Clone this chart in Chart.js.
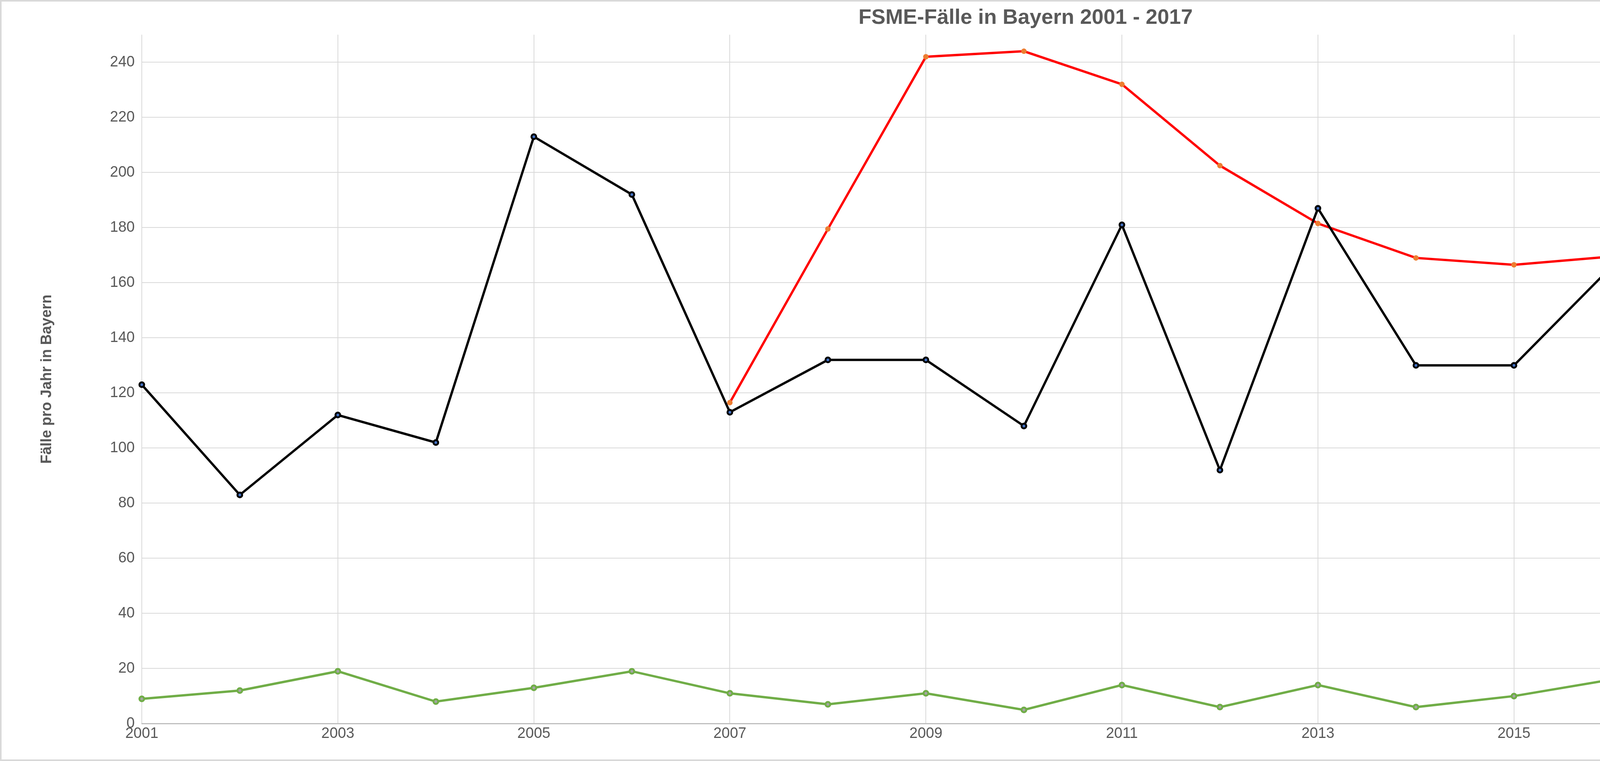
<!DOCTYPE html>
<html>
<head>
<meta charset="utf-8">
<script src="https://cdn.jsdelivr.net/npm/chart.js@4"></script>
<style>
  html, body { margin: 0; padding: 0; background: #fff; overflow: hidden; }
  #wrap { position: relative; width: 5191px; height: 1947px; box-sizing: border-box; border: 4px solid #d9d9d9; }
  #c { display: block; width: 5183px !important; height: 1939px !important; }
  #source { position: absolute; left: 4962px; top: 1812px; font-family: 'Liberation Sans', Arial, sans-serif; font-size: 30px; color: #595959; line-height: 36px; }
</style>
</head>
<body>
<div id="wrap">
  <canvas id="c" width="5183" height="1939"></canvas>
  <div id="source"><b>Quelle:</b><br>Survstat@RKI<br>gbe-bund.de</div>
</div>
<script>
const years = ['2001','2002','2003','2004','2005','2006','2007','2008','2009','2010','2011','2012','2013','2014','2015','2016','2017'];
const alleAltersgruppen = [123, 83, 112, 102, 213, 192, 113, 132, 132, 108, 181, 92, 187, 130, 130, 166, 241];
const bis14Jahre = [9, 12, 19, 8, 13, 19, 11, 7, 11, 5, 14, 6, 14, 6, 10, 16, 15];
const impfquote = [null, null, null, null, null, null, 23.3, 35.9, 48.4, 48.8, 46.4, 40.5, 36.3, 33.8, 33.3, 33.9, null];

const FONT = "'Liberation Sans', Arial, sans-serif";
const GREY = '#595959';

new Chart(document.getElementById('c'), {
  type: 'line',
  data: {
    labels: years,
    datasets: [
      {
        label: 'Alle Altersgruppen',
        data: alleAltersgruppen,
        borderColor: '#000000',
        backgroundColor: '#4472c4',
        pointBorderColor: '#000000',
        pointBackgroundColor: '#4472c4',
        borderWidth: 6,
        pointRadius: 6,
        pointBorderWidth: 5,
        yAxisID: 'y',
      },
      {
        label: '≤ 14 Jahre',
        data: bis14Jahre,
        borderColor: '#70ad47',
        backgroundColor: '#a5a5a5',
        pointBorderColor: '#70ad47',
        pointBackgroundColor: '#a5a5a5',
        borderWidth: 6,
        pointRadius: 6,
        pointBorderWidth: 5,
        yAxisID: 'y',
      },
      {
        label: 'Impfquote Einschulung',
        data: impfquote,
        borderColor: '#ff0000',
        backgroundColor: '#ed7d31',
        pointBorderColor: '#ed7d31',
        pointBackgroundColor: '#ed7d31',
        borderWidth: 6,
        pointRadius: 7,
        pointBorderWidth: 0,
        spanGaps: false,
        yAxisID: 'y1',
      },
    ],
  },
  options: {
    responsive: false,
    devicePixelRatio: 1,
    animation: false,
    layout: { padding: { top: 10, right: 30, left: 90, bottom: 40 } },
    plugins: {
      title: {
        display: true,
        text: 'FSME-Fälle in Bayern 2001 - 2017',
        color: GREY,
        font: { family: FONT, size: 54, weight: 'bold' },
        padding: { top: 0, bottom: 10 },
      },
      legend: {
        position: 'right',
        labels: {
          color: GREY,
          font: { family: FONT, size: 38 },
          usePointStyle: true,
          pointStyle: 'line',
          boxWidth: 40,
          padding: 22,
          generateLabels: (chart) => chart.data.datasets.map((ds, i) => ({
            text: ds.label,
            strokeStyle: ds.borderColor,
            fillStyle: ds.borderColor,
            lineWidth: 8,
            pointStyle: 'line',
            fontColor: GREY,
            datasetIndex: i,
          })),
        },
      },
      tooltip: { enabled: false },
    },
    scales: {
      x: {
        offset: false,
        ticks: {
          color: GREY,
          font: { family: FONT, size: 38 },
          maxRotation: 0,
          autoSkip: false,
          callback: (v, i) => (i % 2 === 0 ? years[i] : ''),
        },
        grid: {
          color: (ctx) => (ctx.index % 2 === 0 ? '#d9d9d9' : 'rgba(0,0,0,0)'),
          lineWidth: 2,
          drawTicks: false,
        },
        border: { color: '#bfbfbf', width: 3 },
      },
      y: {
        position: 'left',
        min: 0,
        max: 250,
        ticks: {
          stepSize: 20,
          color: GREY,
          font: { family: FONT, size: 38 },
          padding: 18,
          callback: (v) => (v === 250 ? '' : v),
        },
        grid: { color: (ctx) => (ctx.tick && ctx.tick.value === 250 ? 'rgba(0,0,0,0)' : '#d9d9d9'), lineWidth: 2, drawTicks: false },
        border: { display: false },
        title: {
          display: true,
          text: 'Fälle pro Jahr in Bayern',
          color: GREY,
          font: { family: FONT, size: 38, weight: 'bold' },
          padding: { bottom: 120 },
        },
      },
      y1: {
        position: 'right',
        min: 0,
        max: 50,
        ticks: {
          stepSize: 5,
          color: '#ff0000',
          font: { family: FONT, size: 38 },
          padding: 18,
        },
        grid: { drawOnChartArea: false, drawTicks: false },
        border: { display: false },
        title: {
          display: true,
          text: 'Impfquote FSME bei Einschulung in %',
          color: '#ff0000',
          font: { family: FONT, size: 38, weight: 'bold' },
          padding: { top: 120, bottom: 60 },
        },
      },
    },
  },
});
</script>
</body>
</html>
